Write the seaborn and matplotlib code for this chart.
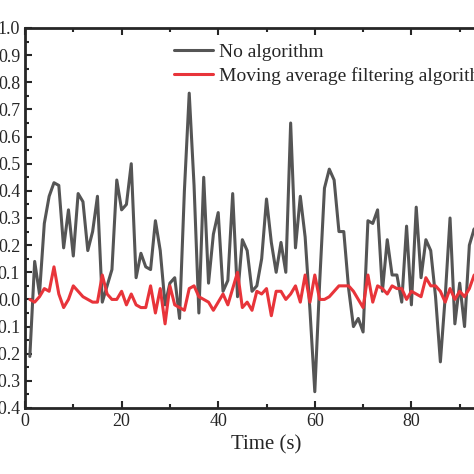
import numpy as np
import pandas as pd
import matplotlib
matplotlib.use("Agg")
import matplotlib.pyplot as plt
from matplotlib.ticker import MultipleLocator
import seaborn as sns

time_s = list(range(1, 95))
no_algorithm = [
    -0.21, 0.14, 0.02, 0.28, 0.38, 0.43, 0.42, 0.19, 0.33, 0.16,
    0.39, 0.36, 0.18, 0.25, 0.38, -0.01, 0.05, 0.11, 0.44, 0.33,
    0.35, 0.50, 0.08, 0.17, 0.12, 0.11, 0.29, 0.18, -0.02, 0.06,
    0.08, -0.07, 0.40, 0.76, 0.42, -0.05, 0.45, 0.06, 0.24, 0.32,
    0.03, 0.07, 0.39, 0.01, 0.22, 0.18, 0.03, 0.05, 0.15, 0.37,
    0.21, 0.10, 0.21, 0.10, 0.65, 0.19, 0.38, 0.23, -0.04, -0.34,
    0.06, 0.41, 0.48, 0.44, 0.25, 0.25, 0.04, -0.10, -0.07, -0.12,
    0.29, 0.28, 0.33, 0.03, 0.22, 0.09, 0.09, -0.01, 0.27, -0.02,
    0.34, 0.08, 0.22, 0.18, 0.01, -0.23, 0.01, 0.30, -0.09, 0.06,
    -0.10, 0.20, 0.26, 0.18,
]
moving_avg = [
    0.00, -0.01, 0.01, 0.04, 0.03, 0.12, 0.02, -0.03, 0.00, 0.05,
    0.03, 0.01, 0.00, -0.01, -0.01, 0.09, 0.02, 0.00, 0.00, 0.03,
    -0.02, 0.02, -0.02, -0.03, -0.03, 0.05, -0.05, 0.04, -0.09, 0.05,
    -0.02, -0.03, -0.04, 0.04, 0.05, 0.01, 0.00, -0.01, -0.04, -0.01,
    0.02, -0.02, 0.04, 0.10, -0.03, -0.01, -0.04, 0.03, 0.02, 0.04,
    -0.06, 0.03, 0.03, 0.00, 0.02, 0.05, -0.01, 0.09, -0.01, 0.09,
    0.00, 0.00, 0.01, 0.03, 0.05, 0.05, 0.05, 0.03, 0.00, -0.03,
    0.09, -0.01, 0.05, 0.04, 0.02, 0.05, 0.04, 0.04, 0.00, 0.03,
    0.02, 0.01, 0.08, 0.05, 0.05, 0.03, -0.01, 0.04, 0.00, 0.03,
    0.01, 0.04, 0.09, 0.05,
]

sns.set_theme(style="ticks")
plt.rcParams["font.family"] = ["Liberation Serif", "DejaVu Serif"]

df = pd.DataFrame({"t": time_s * 2,
                   "v": no_algorithm + moving_avg,
                   "s": ["No algorithm"] * len(time_s)
                        + ["Moving average filtering algorithm"] * len(time_s)})

fig = plt.figure(figsize=(4.74, 4.74), dpi=100)
# axes extend past the right edge, as in the cropped reference
ax = fig.add_axes([25 / 474, 66 / 474, 483 / 474, 380 / 474])
sns.lineplot(data=df, x="t", y="v", hue="s", ax=ax, linewidth=2.2,
             palette=["#555555", "#e8343a"], legend=True)
ax.set_xlim(0, 100)
ax.set_ylim(-0.4, 1.0)
ax.xaxis.set_major_locator(MultipleLocator(20))
ax.xaxis.set_minor_locator(MultipleLocator(10))
ax.yaxis.set_major_locator(MultipleLocator(0.1))
ax.yaxis.set_minor_locator(MultipleLocator(0.05))
ax.yaxis.set_major_formatter(plt.FuncFormatter(lambda v, p: f"{v:.1f}"))
ax.tick_params(which="both", direction="in", top=True, right=True, width=1.5, labelsize=13)
ax.tick_params(which="major", length=5)
ax.tick_params(which="minor", length=3)
for s in ax.spines.values():
    s.set_linewidth(2)
ax.set_xlabel("Time (s)", fontsize=15)
ax.set_ylabel("")
ax.legend(loc="upper left", bbox_to_anchor=(0.285, 0.99), frameon=False,
          fontsize=14, handlelength=2.0, handletextpad=0.3,
          borderaxespad=0.2, labelspacing=0.3)
fig.savefig("out.png", dpi=100)
